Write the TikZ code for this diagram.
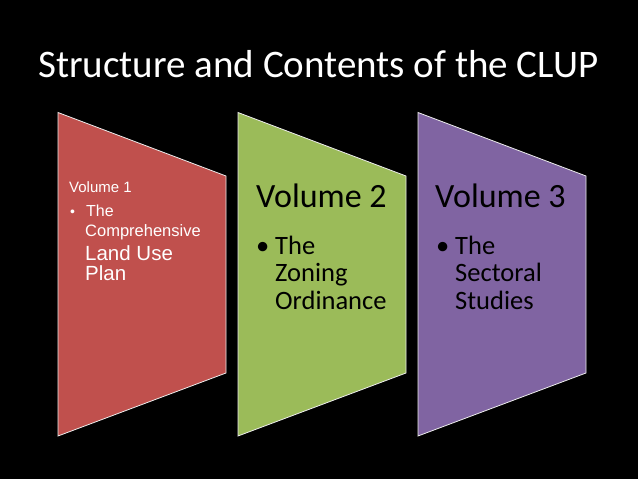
\documentclass[tikz,border=0pt]{standalone}
\usepackage{fontspec}
\setmainfont{Carlito}
\newfontfamily\arial{Liberation Sans}
\definecolor{cred}{HTML}{C0504D}
\definecolor{cgreen}{HTML}{9BBB59}
\definecolor{cpurple}{HTML}{8064A2}
\tikzset{panel/.style={draw=white!85!gray,line width=0.8pt},
 txt/.style={anchor=base west,inner sep=0}}
\begin{document}
\begin{tikzpicture}[x=1pt,y=-1pt]
\fill[black] (0,0) rectangle (638,479);
\useasboundingbox (0,0) rectangle (638,479);
\node[white,txt,font=\fontsize{39}{44}\selectfont] (title) at (38,77) {Structure and Contents of the CLUP};
\foreach \n/\x/\c in {a/58/cred,b/238/cgreen,c/418/cpurple}{
  \fill[\c,panel] (\x,112.5) -- (\x+168,176) -- (\x+168,373) -- (\x,436) -- cycle;
}
\begin{scope}[white]
\node[txt,font=\arial\fontsize{15}{18}\selectfont] (v1) at (69,192) {Volume 1};
\node[txt,font=\arial\fontsize{14}{14}\selectfont] (b1) at (70,216) {•};
\node[txt,font=\arial\fontsize{16}{14}\selectfont] (t1a) at (86,216) {The};
\node[txt,font=\arial\fontsize{16.5}{15}\selectfont] (t1b) at (85,236) {Comprehensive};
\node[txt,font=\arial\fontsize{20.5}{19}\selectfont] (t1c) at (85,260) {Land Use};
\node[txt,font=\arial\fontsize{20.5}{19}\selectfont] (t1d) at (85,280) {Plan};
\end{scope}
\begin{scope}[black]
\node[txt,font=\fontsize{34}{36}\selectfont] (v2) at (256,207) {Volume 2};
\node[txt,font=\fontsize{26.5}{28}\selectfont] (b2) at (256,254) {•};
\node[txt,font=\fontsize{26.5}{28}\selectfont] (t2a) at (275,254) {The};
\node[txt,font=\fontsize{26.5}{28}\selectfont] (t2b) at (275,281) {Zoning};
\node[txt,font=\fontsize{26.5}{28}\selectfont] (t2c) at (275,309) {Ordinance};
\node[txt,font=\fontsize{34}{36}\selectfont] (v3) at (435,207) {Volume 3};
\node[txt,font=\fontsize{26.5}{28}\selectfont] (b3) at (436,254) {•};
\node[txt,font=\fontsize{26.5}{28}\selectfont] (t3a) at (455,254) {The};
\node[txt,font=\fontsize{26.5}{28}\selectfont] (t3b) at (455,281) {Sectoral};
\node[txt,font=\fontsize{26.5}{28}\selectfont] (t3c) at (455,309) {Studies};
\end{scope}
\end{tikzpicture}
\end{document}
